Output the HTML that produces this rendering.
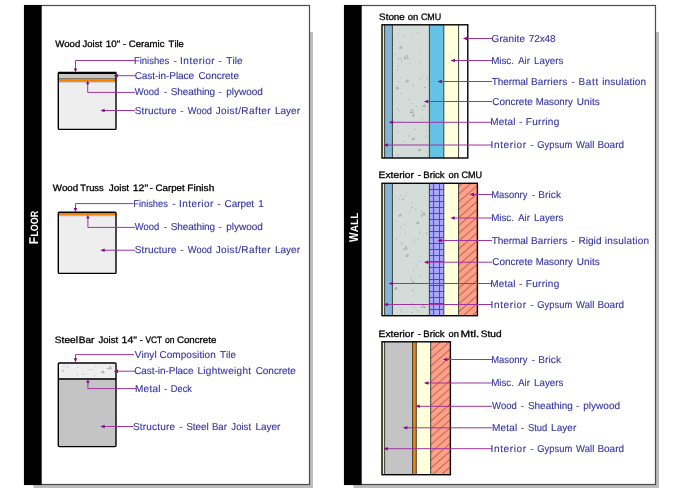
<!DOCTYPE html>
<html><head><meta charset="utf-8"><title>Assemblies</title>
<style>
html,body{margin:0;padding:0;background:#fff;}
body{width:692px;height:493px;overflow:hidden;font-family:"Liberation Sans",sans-serif;}
svg{display:block;will-change:transform}
text{font-family:"Liberation Sans",sans-serif;font-kerning:none;text-rendering:geometricPrecision;}
.t{font-size:10.0px;fill:#3535a0;stroke:#3535a0;stroke-width:0.12px;}
.h{font-size:9.4px;fill:#000;stroke:#000;stroke-width:0.3px;}
.s{font-weight:bold;fill:#fff;}
.l{stroke:#9e349e;stroke-width:1;fill:none;}
.a{fill:#860a86;stroke:none;}
.k{fill:none;stroke:#000;stroke-width:1.4;}
.d{stroke:#2a2a2a;stroke-width:0.9;fill:none;}
.sp{fill:#8a8f8c;}
.tr{fill:#dfe4e1;stroke:#7c807e;stroke-width:0.5;}
</style></head><body>
<svg width="692" height="493" viewBox="0 0 692 493">
<defs>
<pattern id="brick" width="9.02" height="7.85" patternUnits="userSpaceOnUse" x="458.5" y="186.35"><rect width="9.02" height="7.85" fill="#ffa088"/><path d="M-1.80,9.42 L10.82,-1.57 M-1.80,1.57 L1.80,-1.57 M7.22,9.42 L10.82,6.28" stroke="#8a3a2e" stroke-width="0.75" fill="none"/></pattern>
<pattern id="brick3" width="9.02" height="7.85" patternUnits="userSpaceOnUse" x="431.0" y="342.35"><rect width="9.02" height="7.85" fill="#ffa088"/><path d="M-1.80,9.42 L10.82,-1.57 M-1.80,1.57 L1.80,-1.57 M7.22,9.42 L10.82,6.28" stroke="#8a3a2e" stroke-width="0.75" fill="none"/></pattern>
<pattern id="rigid" width="5.9" height="6" patternUnits="userSpaceOnUse" x="433.1" y="189"><rect width="5.9" height="6" fill="#a8a8ff"/><path d="M0,0.5 H5.9 M0.5,0 V6" stroke="#4a4aae" stroke-width="1" fill="none"/></pattern>
</defs>

<rect x="310" y="32" width="3.0" height="456" fill="#bcbcbc"/>
<rect x="33.5" y="485" width="279.5" height="3" fill="#bcbcbc"/>
<rect x="24.5" y="5.5" width="285" height="479" fill="#fff" stroke="#4c4c4c" stroke-width="1.2"/>
<rect x="24" y="5" width="17.7" height="480" fill="#000"/>
<rect x="656" y="32" width="3.0" height="456" fill="#bcbcbc"/>
<rect x="353.5" y="485" width="305.5" height="3" fill="#bcbcbc"/>
<rect x="344.5" y="5.5" width="311" height="479" fill="#fff" stroke="#4c4c4c" stroke-width="1.2"/>
<rect x="344" y="5" width="17.7" height="480" fill="#000"/>
<g transform="translate(37.8,244.2) rotate(-90)"><text class="s" font-size="12.8" x="0" y="0" textLength="7.2" lengthAdjust="spacingAndGlyphs">F</text><text class="s" font-size="10.6" x="7.599999999999994" y="0" textLength="25.8" lengthAdjust="spacingAndGlyphs">LOOR</text></g>
<g transform="translate(358.1,242.0) rotate(-90)"><text class="s" font-size="12.8" x="0" y="0" textLength="9.6" lengthAdjust="spacingAndGlyphs">W</text><text class="s" font-size="10.6" x="9.800000000000011" y="0" textLength="19.6" lengthAdjust="spacingAndGlyphs">ALL</text></g>
<text class="h" x="55.21" y="47.3" textLength="25.06" lengthAdjust="spacingAndGlyphs">Wood</text><text class="h" x="82.50" y="47.3" textLength="19.62" lengthAdjust="spacingAndGlyphs">Joist</text><text class="h" x="105.80" y="47.3" textLength="14.47" lengthAdjust="spacingAndGlyphs">10&quot;</text><text class="h" x="123.06" y="47.3" letter-spacing="0.00">-</text><text class="h" x="128.86" y="47.3" textLength="35.64" lengthAdjust="spacingAndGlyphs">Ceramic</text><text class="h" x="168.64" y="47.3" textLength="15.23" lengthAdjust="spacingAndGlyphs">Tile</text>
<rect x="58.3" y="73" width="57.7" height="56.5" fill="#eeeeee"/>
<rect x="58.3" y="73" width="57.7" height="5.3" fill="#c6c6c6"/>
<rect x="58.3" y="78.0" width="57.7" height="0.9" fill="#6a6a6a"/>
<rect x="58.3" y="78.9" width="57.7" height="3.0" fill="#f58200"/>
<rect x="58.3" y="81.9" width="57.7" height="0.7" fill="#b8bcc8"/>
<rect class="k" x="58.3" y="72.6" width="57.7" height="56.80000000000001" rx="1"/>
<path d="M57.9,72.9 H116.4" stroke="#000" stroke-width="2.2"/>
<path class="l" d="M75.5,69 V60.5 H135"/>
<path class="a" d="M75.5,72.3 l-1.8,-3.9 h3.6 z"/>
<path class="l" d="M115.5,75.7 H135"/>
<path class="a" d="M113.5,75.7 l4.4,-1.8 v3.6 z"/>
<path class="l" d="M87.7,83.5 V92.4 H135"/>
<path class="a" d="M87.7,80.4 l-1.7,3.8 h3.4 z"/>
<path class="l" d="M102.3,110.5 H135"/>
<path class="a" d="M100.3,110.5 l4.4,-1.8 v3.6 z"/>
<text class="t" x="133.92" y="63.6" textLength="35.42" lengthAdjust="spacingAndGlyphs">Finishes</text><text class="t" x="173.56" y="63.6" letter-spacing="0.00">-</text><text class="t" x="180.08" y="63.6" letter-spacing="0.50">Interior</text><text class="t" x="218.56" y="63.6" letter-spacing="0.00">-</text><text class="t" x="226.28" y="63.6" letter-spacing="0.05">Tile</text>
<text class="t" x="134.69" y="78.9" letter-spacing="-0.05">Cast-in-Place</text><text class="t" x="198.39" y="78.9" letter-spacing="-0.00">Concrete</text>
<text class="t" x="134.66" y="95.1" textLength="24.55" lengthAdjust="spacingAndGlyphs">Wood</text><text class="t" x="163.66" y="95.1" letter-spacing="0.00">-</text><text class="t" x="170.65" y="95.1" letter-spacing="-0.07">Sheathing</text><text class="t" x="218.56" y="95.1" letter-spacing="0.00">-</text><text class="t" x="226.16" y="95.1" letter-spacing="-0.00">plywood</text>
<text class="t" x="134.75" y="113.7" letter-spacing="0.14">Structure</text><text class="t" x="180.36" y="113.7" letter-spacing="0.00">-</text><text class="t" x="187.76" y="113.7" textLength="24.24" lengthAdjust="spacingAndGlyphs">Wood</text><text class="t" x="215.64" y="113.7" letter-spacing="0.40">Joist/Rafter</text><text class="t" x="274.88" y="113.7" letter-spacing="0.04">Layer</text>
<text class="h" x="52.71" y="191.1" textLength="25.47" lengthAdjust="spacingAndGlyphs">Wood</text><text class="h" x="80.34" y="191.1" textLength="23.35" lengthAdjust="spacingAndGlyphs">Truss</text><text class="h" x="108.69" y="191.1" textLength="20.43" lengthAdjust="spacingAndGlyphs">Joist</text><text class="h" x="132.75" y="191.1" textLength="15.45" lengthAdjust="spacingAndGlyphs">12&quot;</text><text class="h" x="149.76" y="191.1" letter-spacing="0.00">-</text><text class="h" x="155.56" y="191.1" textLength="29.16" lengthAdjust="spacingAndGlyphs">Carpet</text><text class="h" x="187.32" y="191.1" textLength="26.99" lengthAdjust="spacingAndGlyphs">Finish</text>
<rect x="58.3" y="212.5" width="57.7" height="61" fill="#eeeeee"/>
<rect x="58.3" y="212.5" width="57.7" height="3.1" fill="#f58200"/>
<rect x="58.3" y="215.6" width="57.7" height="0.7" fill="#b8bcc8"/>
<rect class="k" x="58.3" y="212.3" width="57.7" height="61.099999999999966" rx="1"/>
<path class="l" d="M75.5,209 V203.6 H133.5"/>
<path class="a" d="M75.5,212 l-1.8,-3.9 h3.6 z"/>
<path class="l" d="M87.9,218 V227.4 H135"/>
<path class="a" d="M87.9,214.8 l-1.7,3.8 h3.4 z"/>
<path class="l" d="M102.3,250.2 H135"/>
<path class="a" d="M100.3,250.2 l4.4,-1.8 v3.6 z"/>
<text class="t" x="133.24" y="206.9" textLength="34.60" lengthAdjust="spacingAndGlyphs">Finishes</text><text class="t" x="172.26" y="206.9" letter-spacing="0.00">-</text><text class="t" x="178.98" y="206.9" letter-spacing="0.47">Interior</text><text class="t" x="217.26" y="206.9" letter-spacing="0.00">-</text><text class="t" x="224.49" y="206.9" letter-spacing="-0.07">Carpet</text><text class="t" x="258.34" y="206.9" letter-spacing="0.00">1</text>
<text class="t" x="134.66" y="230.3" textLength="24.55" lengthAdjust="spacingAndGlyphs">Wood</text><text class="t" x="163.66" y="230.3" letter-spacing="0.00">-</text><text class="t" x="170.65" y="230.3" letter-spacing="-0.07">Sheathing</text><text class="t" x="218.56" y="230.3" letter-spacing="0.00">-</text><text class="t" x="226.16" y="230.3" letter-spacing="-0.00">plywood</text>
<text class="t" x="134.75" y="253.0" letter-spacing="0.14">Structure</text><text class="t" x="180.36" y="253.0" letter-spacing="0.00">-</text><text class="t" x="187.76" y="253.0" textLength="24.24" lengthAdjust="spacingAndGlyphs">Wood</text><text class="t" x="215.64" y="253.0" letter-spacing="0.40">Joist/Rafter</text><text class="t" x="274.88" y="253.0" letter-spacing="0.04">Layer</text>
<text class="h" x="54.89" y="342.9" textLength="23.03" lengthAdjust="spacingAndGlyphs">Steel</text><text class="h" x="78.72" y="342.9" textLength="15.69" lengthAdjust="spacingAndGlyphs">Bar</text><text class="h" x="98.50" y="342.9" textLength="19.62" lengthAdjust="spacingAndGlyphs">Joist</text><text class="h" x="121.55" y="342.9" textLength="15.45" lengthAdjust="spacingAndGlyphs">14&quot;</text><text class="h" x="139.76" y="342.9" letter-spacing="0.00">-</text><text class="h" x="145.61" y="342.9" textLength="16.42" lengthAdjust="spacingAndGlyphs">VCT</text><text class="h" x="164.99" y="342.9" textLength="9.51" lengthAdjust="spacingAndGlyphs">on</text><text class="h" x="176.96" y="342.9" textLength="39.32" lengthAdjust="spacingAndGlyphs">Concrete</text>
<rect x="58.3" y="363" width="57.7" height="83.5" fill="#c4c4c4"/>
<rect x="58.3" y="363" width="57.7" height="15" fill="#eeeeee"/>
<path class="sp" d="M77.5,366.7h0.8v0.8h-0.8zM95.4,365.8h0.8v0.8h-0.8zM89.1,369.0h0.8v0.8h-0.8zM63.0,370.6h0.8v0.8h-0.8zM61.9,369.8h0.8v0.8h-0.8zM63.6,366.0h0.8v0.8h-0.8zM83.0,374.1h0.8v0.8h-0.8zM66.6,367.5h0.8v0.8h-0.8zM94.1,375.4h0.8v0.8h-0.8zM91.4,369.4h0.8v0.8h-0.8zM113.2,365.5h0.8v0.8h-0.8zM106.8,368.2h0.8v0.8h-0.8zM67.7,366.3h0.8v0.8h-0.8zM76.7,374.0h0.8v0.8h-0.8z"/>
<path class="tr" d="M108.0,369.0 l2.4,-3.0 l1.2,2.7 z"/>
<path class="tr" d="M101.4,372.8 l1.8,-2.2 l0.9,2.0 z"/>
<path d="M58.3,379.0 H116.0" stroke="#000" stroke-width="1.5"/>
<rect class="k" x="58.3" y="363.0" width="57.7" height="83.60000000000002" rx="1"/>
<path class="l" d="M75.5,359 V354.6 H134"/>
<path class="a" d="M75.5,362.2 l-1.8,-3.9 h3.6 z"/>
<path class="l" d="M115.6,371.2 H135"/>
<path class="a" d="M113.6,371.2 l4.4,-1.8 v3.6 z"/>
<path class="l" d="M87.9,382 V388.6 H136"/>
<path class="a" d="M87.9,379.0 l-1.7,3.8 h3.4 z"/>
<path class="l" d="M102.3,426.5 H133.5"/>
<path class="a" d="M100.3,426.5 l4.4,-1.8 v3.6 z"/>
<text class="t" x="134.66" y="357.6" letter-spacing="0.08">Vinyl</text><text class="t" x="159.39" y="357.6" letter-spacing="0.08">Composition</text><text class="t" x="220.08" y="357.6" textLength="15.75" lengthAdjust="spacingAndGlyphs">Tile</text>
<text class="t" x="134.19" y="374.2" letter-spacing="-0.05">Cast-in-Place</text><text class="t" x="197.38" y="374.2" letter-spacing="0.31">Lightweight</text><text class="t" x="255.69" y="374.2" letter-spacing="-0.05">Concrete</text>
<text class="t" x="134.88" y="391.5" letter-spacing="0.31">Metal</text><text class="t" x="163.96" y="391.5" letter-spacing="0.00">-</text><text class="t" x="170.84" y="391.5" textLength="21.04" lengthAdjust="spacingAndGlyphs">Deck</text>
<text class="t" x="132.95" y="429.6" letter-spacing="0.20">Structure</text><text class="t" x="179.26" y="429.6" letter-spacing="0.00">-</text><text class="t" x="186.25" y="429.6" letter-spacing="-0.09">Steel</text><text class="t" x="211.91" y="429.6" textLength="15.05" lengthAdjust="spacingAndGlyphs">Bar</text><text class="t" x="231.35" y="429.6" textLength="19.72" lengthAdjust="spacingAndGlyphs">Joist</text><text class="t" x="255.38" y="429.6" letter-spacing="-0.03">Layer</text>
<text class="h" x="379.10" y="20.4" textLength="25.68" lengthAdjust="spacingAndGlyphs">Stone</text><text class="h" x="407.65" y="20.4" textLength="10.51" lengthAdjust="spacingAndGlyphs">on</text><text class="h" x="420.90" y="20.4" textLength="20.34" lengthAdjust="spacingAndGlyphs">CMU</text>
<rect x="382" y="24.8" width="2.6000000000000227" height="133.2" fill="#f6f29c"/>
<rect x="384.6" y="24.8" width="7.7999999999999545" height="133.2" fill="#84b6d4"/>
<rect x="392.4" y="24.8" width="37.0" height="133.2" fill="#d3dcd8"/>
<rect x="429.4" y="24.8" width="14.400000000000034" height="133.2" fill="#64c2e4"/>
<rect x="443.8" y="24.8" width="14.800000000000011" height="133.2" fill="#ffffdc"/>
<rect x="458.6" y="24.8" width="9.199999999999989" height="133.2" fill="#fff"/>
<path class="sp" d="M409.2,99.1h0.8v0.8h-0.8zM424.6,87.0h0.8v0.8h-0.8zM411.0,102.7h0.8v0.8h-0.8zM400.4,92.9h0.8v0.8h-0.8zM415.0,129.3h0.8v0.8h-0.8zM397.5,66.0h0.8v0.8h-0.8zM397.4,131.4h0.8v0.8h-0.8zM417.1,32.2h0.8v0.8h-0.8zM426.5,151.4h0.8v0.8h-0.8zM415.8,106.3h0.8v0.8h-0.8zM399.6,28.7h0.8v0.8h-0.8zM411.7,34.5h0.8v0.8h-0.8zM400.6,58.1h0.8v0.8h-0.8zM395.4,86.7h0.8v0.8h-0.8zM408.8,135.6h0.8v0.8h-0.8zM411.4,109.5h0.8v0.8h-0.8zM410.7,112.4h0.8v0.8h-0.8zM409.4,62.7h0.8v0.8h-0.8zM427.0,155.4h0.8v0.8h-0.8zM421.9,118.2h0.8v0.8h-0.8zM404.7,56.5h0.8v0.8h-0.8zM403.9,35.9h0.8v0.8h-0.8zM419.5,78.5h0.8v0.8h-0.8zM422.1,76.7h0.8v0.8h-0.8zM425.7,136.3h0.8v0.8h-0.8zM394.4,53.9h0.8v0.8h-0.8zM424.2,87.5h0.8v0.8h-0.8zM426.5,78.1h0.8v0.8h-0.8zM396.8,108.1h0.8v0.8h-0.8zM419.9,61.7h0.8v0.8h-0.8zM397.2,69.8h0.8v0.8h-0.8zM425.9,124.7h0.8v0.8h-0.8zM398.3,58.6h0.8v0.8h-0.8zM397.7,34.5h0.8v0.8h-0.8zM420.5,49.8h0.8v0.8h-0.8zM412.7,84.6h0.8v0.8h-0.8zM400.6,121.4h0.8v0.8h-0.8zM398.7,110.0h0.8v0.8h-0.8zM398.2,81.2h0.8v0.8h-0.8zM401.4,61.7h0.8v0.8h-0.8zM426.1,130.6h0.8v0.8h-0.8zM404.3,141.1h0.8v0.8h-0.8zM401.3,77.7h0.8v0.8h-0.8zM422.3,109.7h0.8v0.8h-0.8zM397.7,154.6h0.8v0.8h-0.8zM401.4,60.2h0.8v0.8h-0.8z"/>
<path class="tr" d="M399.3,48.3 l1.8,-2.2 l0.9,2.0 z"/>
<path class="tr" d="M404.0,58.9 l2.9,-3.6 l1.4,3.2 z"/>
<path class="tr" d="M405.8,82.0 l1.8,-2.2 l0.9,2.0 z"/>
<path class="tr" d="M396.1,88.9 l1.6,-2.0 l0.8,1.8 z"/>
<path class="tr" d="M409.9,112.8 l2.6,-3.2 l1.3,2.9 z"/>
<path class="tr" d="M412.3,116.1 l1.4,-1.8 l0.7,1.6 z"/>
<path class="tr" d="M422.6,106.7 l1.8,-2.2 l0.9,2.0 z"/>
<path class="tr" d="M411.9,139.5 l1.8,-2.2 l0.9,2.0 z"/>
<path class="tr" d="M418.1,150.7 l1.8,-2.2 l0.9,2.0 z"/>
<path class="d" d="M384.6,24.8 V158.0"/>
<path class="d" d="M392.4,24.8 V158.0"/>
<path class="d" d="M429.4,24.8 V158.0"/>
<path class="d" d="M443.8,24.8 V158.0"/>
<path class="d" d="M458.6,24.8 V158.0"/>
<rect class="k" x="382.0" y="24.8" width="85.80000000000001" height="133.2"/>
<path class="l" d="M464.8,38.5 H492"/>
<path class="a" d="M462.8,38.5 l4.4,-1.8 v3.6 z"/>
<text class="t" x="491.50" y="41.6" letter-spacing="0.11">Granite</text><text class="t" x="528.69" y="41.6" letter-spacing="-0.07">72x48</text>
<path class="l" d="M452.6,60.5 H492"/>
<path class="a" d="M450.6,60.5 l4.4,-1.8 v3.6 z"/>
<text class="t" x="491.20" y="63.6" textLength="22.79" lengthAdjust="spacingAndGlyphs">Misc.</text><text class="t" x="518.28" y="63.6" textLength="11.58" lengthAdjust="spacingAndGlyphs">Air</text><text class="t" x="534.10" y="63.6" textLength="29.25" lengthAdjust="spacingAndGlyphs">Layers</text>
<path class="l" d="M439.4,81.5 H492"/>
<path class="a" d="M437.4,81.5 l4.4,-1.8 v3.6 z"/>
<text class="t" x="491.78" y="84.6" letter-spacing="-0.06">Thermal</text><text class="t" x="530.98" y="84.6" letter-spacing="0.18">Barriers</text><text class="t" x="571.46" y="84.6" letter-spacing="0.00">-</text><text class="t" x="578.38" y="84.6" letter-spacing="0.70">Batt</text><text class="t" x="602.13" y="84.6" letter-spacing="0.20">insulation</text>
<path class="l" d="M425.9,101.5 H492"/>
<path class="a" d="M423.9,101.5 l4.4,-1.8 v3.6 z"/>
<text class="t" x="492.29" y="104.6" letter-spacing="-0.02">Concrete</text><text class="t" x="535.71" y="104.6" textLength="37.01" lengthAdjust="spacingAndGlyphs">Masonry</text><text class="t" x="576.63" y="104.6" letter-spacing="0.11">Units</text>
<path class="l" d="M390.7,122.3 H492"/>
<path class="a" d="M388.7,122.3 l4.4,-1.8 v3.6 z"/>
<text class="t" x="490.18" y="125.4" letter-spacing="0.23">Metal</text><text class="t" x="518.96" y="125.4" letter-spacing="0.00">-</text><text class="t" x="525.78" y="125.4" letter-spacing="0.30">Furring</text>
<path class="l" d="M385.5,145.0 H492"/>
<path class="a" d="M383.5,145.0 l4.4,-1.8 v3.6 z"/>
<text class="t" x="490.58" y="148.1" letter-spacing="0.61">Interior</text><text class="t" x="530.36" y="148.1" letter-spacing="0.00">-</text><text class="t" x="537.33" y="148.1" textLength="34.89" lengthAdjust="spacingAndGlyphs">Gypsum</text><text class="t" x="575.96" y="148.1" textLength="18.37" lengthAdjust="spacingAndGlyphs">Wall</text><text class="t" x="597.38" y="148.1" letter-spacing="-0.00">Board</text>
<text class="h" x="378.61" y="178.0" textLength="35.41" lengthAdjust="spacingAndGlyphs">Exterior</text><text class="h" x="417.66" y="178.0" letter-spacing="0.00">-</text><text class="h" x="423.36" y="178.0" textLength="21.27" lengthAdjust="spacingAndGlyphs">Brick</text><text class="h" x="448.56" y="178.0" textLength="10.29" lengthAdjust="spacingAndGlyphs">on</text><text class="h" x="461.39" y="178.0" textLength="20.66" lengthAdjust="spacingAndGlyphs">CMU</text>
<rect x="382" y="183.3" width="2.6000000000000227" height="132.39999999999998" fill="#f6f29c"/>
<rect x="384.6" y="183.3" width="7.7999999999999545" height="132.39999999999998" fill="#84b6d4"/>
<rect x="392.4" y="183.3" width="37.0" height="132.39999999999998" fill="#d3dcd8"/>
<rect x="429.4" y="183.3" width="14.400000000000034" height="132.39999999999998" fill="url(#rigid)"/>
<rect x="443.8" y="183.3" width="14.800000000000011" height="132.39999999999998" fill="#ffffdc"/>
<rect x="458.6" y="183.3" width="18.799999999999955" height="132.39999999999998" fill="url(#brick)"/>
<path class="sp" d="M424.6,307.1h0.8v0.8h-0.8zM423.6,196.0h0.8v0.8h-0.8zM413.8,239.7h0.8v0.8h-0.8zM411.7,202.0h0.8v0.8h-0.8zM400.7,242.4h0.8v0.8h-0.8zM401.6,243.7h0.8v0.8h-0.8zM395.2,196.3h0.8v0.8h-0.8zM417.6,239.4h0.8v0.8h-0.8zM411.2,279.6h0.8v0.8h-0.8zM406.1,192.7h0.8v0.8h-0.8zM420.0,260.9h0.8v0.8h-0.8zM415.9,265.0h0.8v0.8h-0.8zM426.1,231.9h0.8v0.8h-0.8zM419.2,232.6h0.8v0.8h-0.8zM413.1,270.1h0.8v0.8h-0.8zM404.7,196.3h0.8v0.8h-0.8zM409.9,277.5h0.8v0.8h-0.8zM413.7,242.8h0.8v0.8h-0.8zM415.4,208.7h0.8v0.8h-0.8zM400.2,226.8h0.8v0.8h-0.8zM421.1,210.4h0.8v0.8h-0.8zM398.1,198.0h0.8v0.8h-0.8zM395.7,220.7h0.8v0.8h-0.8zM413.1,290.7h0.8v0.8h-0.8zM405.2,232.8h0.8v0.8h-0.8zM403.8,224.4h0.8v0.8h-0.8zM419.8,255.8h0.8v0.8h-0.8zM402.9,199.1h0.8v0.8h-0.8zM420.0,276.1h0.8v0.8h-0.8zM421.5,215.9h0.8v0.8h-0.8zM412.2,303.3h0.8v0.8h-0.8zM413.8,306.7h0.8v0.8h-0.8zM399.9,310.5h0.8v0.8h-0.8zM396.2,238.7h0.8v0.8h-0.8zM395.2,289.2h0.8v0.8h-0.8zM416.9,310.3h0.8v0.8h-0.8zM420.7,307.1h0.8v0.8h-0.8zM412.0,312.2h0.8v0.8h-0.8zM418.9,229.7h0.8v0.8h-0.8zM426.3,233.7h0.8v0.8h-0.8zM400.7,195.0h0.8v0.8h-0.8zM409.6,210.5h0.8v0.8h-0.8zM424.9,307.3h0.8v0.8h-0.8zM401.5,198.6h0.8v0.8h-0.8zM411.7,207.1h0.8v0.8h-0.8zM412.2,289.7h0.8v0.8h-0.8z"/>
<path class="tr" d="M398.5,216.2 l1.8,-2.2 l0.9,2.0 z"/>
<path class="tr" d="M421.2,215.3 l2.6,-3.2 l1.3,2.9 z"/>
<path class="tr" d="M416.2,223.7 l1.8,-2.2 l0.9,2.0 z"/>
<path class="tr" d="M403.6,249.4 l2.4,-3.0 l1.2,2.7 z"/>
<path class="tr" d="M405.8,256.3 l1.8,-2.2 l0.9,2.0 z"/>
<path class="tr" d="M411.4,283.5 l1.8,-2.2 l0.9,2.0 z"/>
<path class="tr" d="M394.7,289.0 l1.6,-2.0 l0.8,1.8 z"/>
<path class="tr" d="M421.8,307.3 l1.8,-2.2 l0.9,2.0 z"/>
<path class="d" d="M384.6,183.3 V315.7"/>
<path class="d" d="M392.4,183.3 V315.7"/>
<path class="d" d="M429.4,183.3 V315.7"/>
<path class="d" d="M443.8,183.3 V315.7"/>
<path class="d" d="M458.6,183.3 V315.7"/>
<rect class="k" x="382.0" y="183.3" width="95.39999999999998" height="132.39999999999998"/>
<path class="l" d="M471.6,194.5 H492"/>
<path class="a" d="M469.6,194.5 l4.4,-1.8 v3.6 z"/>
<text class="t" x="491.23" y="197.6" textLength="36.19" lengthAdjust="spacingAndGlyphs">Masonry</text><text class="t" x="531.66" y="197.6" letter-spacing="0.00">-</text><text class="t" x="538.28" y="197.6" letter-spacing="0.12">Brick</text>
<path class="l" d="M452.3,218.0 H492"/>
<path class="a" d="M450.3,218.0 l4.4,-1.8 v3.6 z"/>
<text class="t" x="491.20" y="221.1" textLength="22.79" lengthAdjust="spacingAndGlyphs">Misc.</text><text class="t" x="518.28" y="221.1" textLength="11.58" lengthAdjust="spacingAndGlyphs">Air</text><text class="t" x="534.10" y="221.1" textLength="29.25" lengthAdjust="spacingAndGlyphs">Layers</text>
<path class="l" d="M439.4,240.5 H492"/>
<path class="a" d="M437.4,240.5 l4.4,-1.8 v3.6 z"/>
<text class="t" x="491.78" y="243.6" letter-spacing="-0.06">Thermal</text><text class="t" x="530.98" y="243.6" letter-spacing="0.18">Barriers</text><text class="t" x="571.46" y="243.6" letter-spacing="0.00">-</text><text class="t" x="578.38" y="243.6" letter-spacing="0.07">Rigid</text><text class="t" x="604.73" y="243.6" letter-spacing="0.23">insulation</text>
<path class="l" d="M425.9,262.2 H492"/>
<path class="a" d="M423.9,262.2 l4.4,-1.8 v3.6 z"/>
<text class="t" x="492.29" y="265.3" letter-spacing="-0.02">Concrete</text><text class="t" x="535.71" y="265.3" textLength="37.01" lengthAdjust="spacingAndGlyphs">Masonry</text><text class="t" x="576.63" y="265.3" letter-spacing="0.11">Units</text>
<path class="l" d="M390.7,283.5 H492"/>
<path class="a" d="M388.7,283.5 l4.4,-1.8 v3.6 z"/>
<text class="t" x="490.18" y="286.6" letter-spacing="0.23">Metal</text><text class="t" x="518.96" y="286.6" letter-spacing="0.00">-</text><text class="t" x="525.78" y="286.6" letter-spacing="0.30">Furring</text>
<path class="l" d="M385.5,304.5 H492"/>
<path class="a" d="M383.5,304.5 l4.4,-1.8 v3.6 z"/>
<text class="t" x="490.58" y="307.6" letter-spacing="0.61">Interior</text><text class="t" x="530.36" y="307.6" letter-spacing="0.00">-</text><text class="t" x="537.33" y="307.6" textLength="34.89" lengthAdjust="spacingAndGlyphs">Gypsum</text><text class="t" x="575.96" y="307.6" textLength="18.37" lengthAdjust="spacingAndGlyphs">Wall</text><text class="t" x="597.38" y="307.6" letter-spacing="-0.00">Board</text>
<text class="h" x="378.61" y="337.3" textLength="35.41" lengthAdjust="spacingAndGlyphs">Exterior</text><text class="h" x="417.66" y="337.3" letter-spacing="0.00">-</text><text class="h" x="423.36" y="337.3" textLength="21.27" lengthAdjust="spacingAndGlyphs">Brick</text><text class="h" x="448.56" y="337.3" textLength="10.29" lengthAdjust="spacingAndGlyphs">on</text><text class="h" x="460.60" y="337.3" textLength="18.60" lengthAdjust="spacingAndGlyphs">Mtl.</text><text class="h" x="480.79" y="337.3" textLength="20.81" lengthAdjust="spacingAndGlyphs">Stud</text>
<rect x="382" y="341.8" width="2.6000000000000227" height="132.89999999999998" fill="#f6f29c"/>
<rect x="384.6" y="341.8" width="28.0" height="132.89999999999998" fill="#c4c4c4"/>
<rect x="412.6" y="341.8" width="3.6999999999999886" height="132.89999999999998" fill="#f58200"/>
<rect x="416.3" y="341.8" width="14.399999999999977" height="132.89999999999998" fill="#ffffdc"/>
<rect x="430.7" y="341.8" width="19.69999999999999" height="132.89999999999998" fill="url(#brick3)"/>
<path class="d" d="M384.6,341.8 V474.7"/>
<path class="d" d="M412.6,341.8 V474.7"/>
<path class="d" d="M416.3,341.8 V474.7"/>
<path class="d" d="M430.7,341.8 V474.7"/>
<rect class="k" x="382.0" y="341.8" width="68.39999999999998" height="132.89999999999998"/>
<path class="l" d="M444.9,359.5 H492"/>
<path class="a" d="M442.9,359.5 l4.4,-1.8 v3.6 z"/>
<text class="t" x="491.23" y="362.6" textLength="36.19" lengthAdjust="spacingAndGlyphs">Masonry</text><text class="t" x="531.66" y="362.6" letter-spacing="0.00">-</text><text class="t" x="538.28" y="362.6" letter-spacing="0.12">Brick</text>
<path class="l" d="M425.9,383.0 H492"/>
<path class="a" d="M423.9,383.0 l4.4,-1.8 v3.6 z"/>
<text class="t" x="491.20" y="386.1" textLength="22.79" lengthAdjust="spacingAndGlyphs">Misc.</text><text class="t" x="518.28" y="386.1" textLength="11.58" lengthAdjust="spacingAndGlyphs">Air</text><text class="t" x="534.10" y="386.1" textLength="29.25" lengthAdjust="spacingAndGlyphs">Layers</text>
<path class="l" d="M417.4,406.3 H492"/>
<path class="a" d="M415.4,406.3 l4.4,-1.8 v3.6 z"/>
<text class="t" x="491.96" y="409.4" textLength="24.86" lengthAdjust="spacingAndGlyphs">Wood</text><text class="t" x="520.76" y="409.4" letter-spacing="0.00">-</text><text class="t" x="527.95" y="409.4" letter-spacing="-0.03">Sheathing</text><text class="t" x="575.96" y="409.4" letter-spacing="0.00">-</text><text class="t" x="583.26" y="409.4" letter-spacing="0.03">plywood</text>
<path class="l" d="M404.9,427.8 H492"/>
<path class="a" d="M402.9,427.8 l4.4,-1.8 v3.6 z"/>
<text class="t" x="491.98" y="430.9" letter-spacing="0.23">Metal</text><text class="t" x="520.76" y="430.9" letter-spacing="0.00">-</text><text class="t" x="527.97" y="430.9" textLength="19.33" lengthAdjust="spacingAndGlyphs">Stud</text><text class="t" x="551.08" y="430.9" letter-spacing="0.04">Layer</text>
<path class="l" d="M385.5,448.7 H492"/>
<path class="a" d="M383.5,448.7 l4.4,-1.8 v3.6 z"/>
<text class="t" x="490.58" y="451.8" letter-spacing="0.61">Interior</text><text class="t" x="530.36" y="451.8" letter-spacing="0.00">-</text><text class="t" x="537.33" y="451.8" textLength="34.89" lengthAdjust="spacingAndGlyphs">Gypsum</text><text class="t" x="575.96" y="451.8" textLength="18.37" lengthAdjust="spacingAndGlyphs">Wall</text><text class="t" x="597.38" y="451.8" letter-spacing="-0.00">Board</text>
</svg></body></html>
